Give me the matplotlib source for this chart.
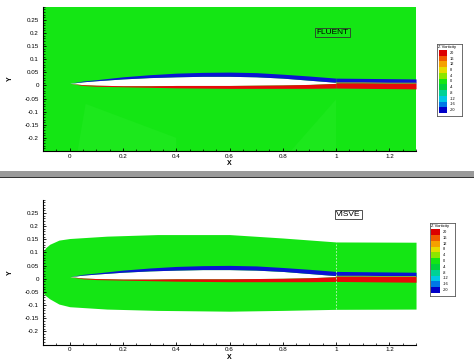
import matplotlib
matplotlib.use("Agg")
import matplotlib.pyplot as plt
from matplotlib.patches import Rectangle

# airfoil surfaces
foil_x = [0.0, 0.05, 0.1, 0.2, 0.3, 0.4, 0.5, 0.6, 0.7, 0.8, 0.9, 1.0]
upper = [0.008, 0.014, 0.018, 0.025, 0.030, 0.033, 0.035, 0.035, 0.033, 0.028, 0.020, 0.012]
blue_top = [0.008, 0.017, 0.022, 0.033, 0.041, 0.047, 0.050, 0.051, 0.049, 0.043, 0.036, 0.028]
lower = [0.008, 0.003, 0.001, -0.001, -0.001, 0.0, 0.0, 0.0, 0.001, 0.002, 0.004, 0.008]
red_bot = [0.008, 0.0, -0.003, -0.005, -0.007, -0.009, -0.010, -0.011, -0.011, -0.011, -0.011, -0.010]

# wake behind trailing edge
wake_x = [1.0, 1.1, 1.2, 1.3]
wake_blue_top = [0.028, 0.027, 0.026, 0.025]
wake_mid = [0.010, 0.010, 0.009, 0.009]
wake_red_bot = [-0.010, -0.011, -0.012, -0.013]

# VISVE domain outline
dom_x = [-0.1, -0.09, -0.075, -0.04, 0.0, 0.14, 0.33, 0.6, 0.8, 1.0, 1.3]
dom_top = [0.102, 0.118, 0.131, 0.147, 0.153, 0.162, 0.168, 0.168, 0.155, 0.140, 0.139]
dom_bot = [-0.053, -0.064, -0.076, -0.096, -0.106, -0.115, -0.120, -0.123, -0.120, -0.116, -0.115]

# legend levels
levels = [20, 16, 12, 8, 4, 0, -4, -8, -12, -16, -20]
level_colors = ["#dc0000", "#f05a00", "#f5a000", "#e6dc00", "#8ce600", "#14e614",
                "#00d23c", "#00d296", "#00c8e6", "#0078e6", "#0000c8"]

xticks = [0, 0.2, 0.4, 0.6, 0.8, 1.0, 1.2]
xtick_labels = ["0", "0.2", "0.4", "0.6", "0.8", "1", "1.2"]
yticks = [0.25, 0.2, 0.15, 0.1, 0.05, 0, -0.05, -0.1, -0.15, -0.2]
ytick_labels = ["0.25", "0.2", "0.15", "0.1", "0.05", "0", "-0.05", "-0.1", "-0.15", "-0.2"]

GREEN = "#14e614"
BLUE = "#0a14d2"
RED = "#e60a0a"
plt.rcParams["font.family"] = ["Liberation Sans", "DejaVu Sans"]


def setup_axes(ax):
    ax.set_xlim(-0.1, 1.3)
    ax.set_ylim(-0.25, 0.3)
    ax.spines["top"].set_visible(False)
    ax.spines["right"].set_visible(False)
    for s in ("left", "bottom"):
        ax.spines[s].set_linewidth(0.8)
        ax.spines[s].set_zorder(5)
    ax.set_xticks(xticks)
    ax.set_xticklabels(xtick_labels)
    ax.set_yticks(yticks)
    ax.set_yticklabels(ytick_labels)
    ax.set_xticks([v / 100 for v in range(-10, 131, 5)], minor=True)
    ax.set_yticks([v / 100 for v in range(-25, 31)], minor=True)
    ax.tick_params(which="major", direction="in", length=2.5, width=0.6,
                   labelsize=4.5)
    ax.tick_params(axis="x", which="major", pad=2.0)
    ax.tick_params(axis="y", which="major", pad=3.0)
    ax.tick_params(which="minor", direction="in", length=1.3, width=0.5)
    ax.text(0.5, -0.088, "X", transform=ax.transAxes, ha="center", va="center",
            fontsize=5, fontweight="bold")
    ax.text(-0.088, 0.5, "Y", transform=ax.transAxes, ha="center", va="center",
            fontsize=5, fontweight="bold", rotation=90)


def draw_foil(ax):
    ax.fill_between(foil_x, lower, upper, color="white", lw=0, zorder=2)
    ax.fill_between(foil_x, upper, blue_top, color=BLUE, lw=0, zorder=2)
    ax.fill_between(foil_x, red_bot, lower, color=RED, lw=0, zorder=2)
    ax.fill_between(wake_x, wake_mid, wake_blue_top, color=BLUE, lw=0, zorder=2)
    ax.fill_between(wake_x, wake_red_bot, wake_mid, color=RED, lw=0, zorder=2)
    ax.plot(wake_x, wake_mid, color="#b4e600", lw=0.5, zorder=3)


def draw_legend(fig, rect):
    lax = fig.add_axes(rect)
    lax.set_xlim(0, 1)
    lax.set_ylim(0, 72)
    lax.set_xticks([])
    lax.set_yticks([])
    for s in lax.spines.values():
        s.set_linewidth(0.6)
        s.set_edgecolor("#555555")
    n = len(levels)
    h = 63 / n
    ys = [3 + h * (n - 1 - i) + h / 2 for i in range(n)]
    lax.barh(ys, 0.34, left=0.06, height=h, color=level_colors, lw=0)
    for y, lv in zip(ys, levels):
        lax.text(0.5, y, str(lv), fontsize=2.8, va="center", ha="left")
    lax.text(0.05, 69, "Z Vorticity", fontsize=3, va="center", ha="left")


def main():
    fig = plt.figure(figsize=(4.74, 3.62), dpi=100)

    # FLUENT panel
    ax1 = fig.add_axes([0.0907, 0.583, 0.787, 0.398])
    ax1.set_facecolor(GREEN)
    ax1.fill([0.06, 0.03, 0.4, 0.4], [-0.07, -0.25, -0.25, -0.2], color="#1ce81c", lw=0, zorder=1)
    ax1.fill([1.0, 0.83, 1.0], [-0.053, -0.25, -0.25], color="#1ce81c", lw=0, zorder=1)
    draw_foil(ax1)
    setup_axes(ax1)
    ax1.text(0.987, 0.203, "FLUENT", fontsize=6, ha="center", va="center",
             bbox=dict(boxstyle="square,pad=0.15", fc="none", ec="#333333", lw=0.6))
    draw_legend(fig, [0.922, 0.6796, 0.0527, 0.1989])

    # VISVE panel
    ax2 = fig.add_axes([0.0907, 0.048, 0.787, 0.400])
    ax2.set_facecolor("white")
    ax2.fill_between(dom_x, dom_bot, dom_top, color=GREEN, lw=0, zorder=1)
    draw_foil(ax2)
    ax2.vlines(1.0, -0.115, 0.139, colors="#c8f5c8", linestyles=(0, (2, 2)), lw=0.6, zorder=3)
    setup_axes(ax2)
    ax2.text(1.047, 0.245, "VISVE", fontsize=6, ha="center", va="center",
             bbox=dict(boxstyle="square,pad=0.15", fc="white", ec="#333333", lw=0.6))
    draw_legend(fig, [0.907, 0.1823, 0.0527, 0.2017])

    # separator bar
    fig.patches.append(Rectangle((0, 0.5083), 1, 0.0193, transform=fig.transFigure,
                                 facecolor="#9a9a9a", edgecolor="none"))
    fig.patches.append(Rectangle((0, 0.5083), 1, 0.004, transform=fig.transFigure,
                                 facecolor="#333333", edgecolor="none"))

    fig.savefig("out.png", dpi=100)


if __name__ == "__main__":
    main()
